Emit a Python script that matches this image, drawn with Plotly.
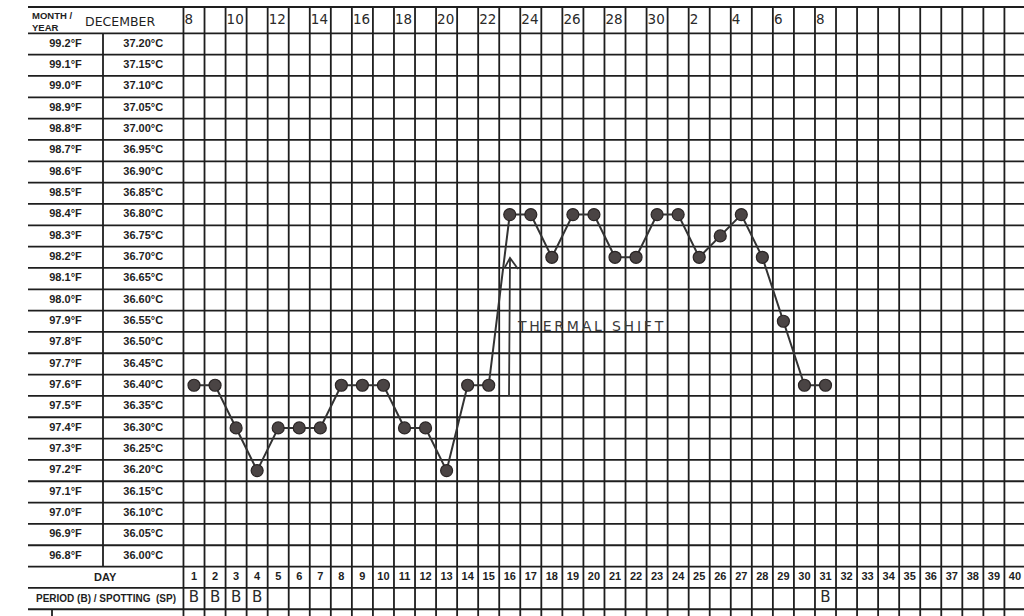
"""
BBT chart (basal body temperature) rebuilt with Plotly.
"""

import plotly.graph_objects as go

# ─── DATA ─────────────────────────────────────────────────────────────────────

ROW_F = [99.2, 99.1, 99.0, 98.9, 98.8, 98.7, 98.6, 98.5, 98.4, 98.3, 98.2, 98.1,
         98.0, 97.9, 97.8, 97.7, 97.6, 97.5, 97.4, 97.3, 97.2, 97.1, 97.0, 96.9, 96.8]
ROW_F_LABELS = ["99.2°F", "99.1°F", "99.0°F", "98.9°F", "98.8°F", "98.7°F", "98.6°F",
                "98.5°F", "98.4°F", "98.3°F", "98.2°F", "98.1°F", "98.0°F", "97.9°F",
                "97.8°F", "97.7°F", "97.6°F", "97.5°F", "97.4°F", "97.3°F", "97.2°F",
                "97.1°F", "97.0°F", "96.9°F", "96.8°F"]
ROW_C_LABELS = ["37.20°C", "37.15°C", "37.10°C", "37.05°C", "37.00°C", "36.95°C",
                "36.90°C", "36.85°C", "36.80°C", "36.75°C", "36.70°C", "36.65°C",
                "36.60°C", "36.55°C", "36.50°C", "36.45°C", "36.40°C", "36.35°C",
                "36.30°C", "36.25°C", "36.20°C", "36.15°C", "36.10°C", "36.05°C",
                "36.00°C"]

DAYS = list(range(1, 41))

DATE_COLS = [1, 3, 5, 7, 9, 11, 13, 15, 17, 19, 21, 23, 25, 27, 29, 31]
DATE_LABELS = ["8", "10", "12", "14", "16", "18", "20", "22", "24", "26", "28", "30",
               "2", "4", "6", "8"]

CYCLE_DAYS = list(range(1, 32))
BBT_F = [97.6, 97.6, 97.4, 97.2, 97.4, 97.4, 97.4, 97.6, 97.6, 97.6, 97.4, 97.4,
         97.2, 97.6, 97.6, 98.4, 98.4, 98.2, 98.4, 98.4, 98.2, 98.2, 98.4, 98.4,
         98.2, 98.3, 98.4, 98.2, 97.9, 97.6, 97.6]

PERIOD_DAYS = [1, 2, 3, 4, 31]
PERIOD_MARKS = ["B", "B", "B", "B", "B"]

MONTH = "DECEMBER"
SHIFT_NOTE = "THERMAL SHIFT"

# ─── GEOMETRY (axis units: x = day column, y = °F) ───────────────────────────

_W, _H = 1024, 616
_PX_PER_DAY = 21.05
_PX_PER_DEG = 213.33
_X0 = -8.216              # x value at left edge of the page
_Y0 = 99.406              # y value at top of the page

_LEFT = _X0 + 28 / _PX_PER_DAY       # left edge of label table
_SPLIT = _X0 + 103 / _PX_PER_DAY     # °F | °C divider
_F_MID = (_LEFT + _SPLIT) / 2
_C_MID = (_SPLIT + 0.5) / 2
_TAB_MID = (_LEFT + 0.5) / 2
_TOP = _Y0 - 7 / _PX_PER_DEG         # top border
_HEAD_Y = _Y0 - 21 / _PX_PER_DEG     # header row centre
_BOTTOM = _Y0 - _H / _PX_PER_DEG
_DAY_Y = 96.7
_PERIOD_Y = 96.6

_INK = "#1e1e1e"
_LINE_W = 1.8
_FONT = "Liberation Sans"

fig = go.Figure()

# ─── GRID ─────────────────────────────────────────────────────────────────────

shapes = []
for d in DAYS + [DAYS[-1] + 1]:
    xv = d - 0.5
    shapes.append(dict(type="line", x0=xv, x1=xv, y0=_BOTTOM, y1=_TOP))

row_edges = [f + 0.05 for f in ROW_F] + [96.75, 96.65, 96.55]
for yv in row_edges:
    shapes.append(dict(type="line", x0=_LEFT, x1=DAYS[-1] + 1, y0=yv, y1=yv))
shapes.append(dict(type="line", x0=_LEFT, x1=DAYS[-1] + 1, y0=_TOP, y1=_TOP))
shapes.append(dict(type="line", x0=_SPLIT, x1=_SPLIT, y0=96.75, y1=ROW_F[0] + 0.05))
shapes.append(dict(type="line", x0=_X0 + 52 / _PX_PER_DAY, x1=_X0 + 52 / _PX_PER_DAY,
                   y0=_BOTTOM, y1=96.55))

for s in shapes:
    s.update(xref="x", yref="y", line=dict(color=_INK, width=_LINE_W), layer="below")

# hand-drawn arrow pointing at the shift
shapes.append(dict(
    type="path", xref="x", yref="y",
    path="M 15.965 97.55 L 16.012 98.197 M 15.775 98.154 L 16.012 98.197 L 16.392 98.145",
    line=dict(color="#333333", width=1.8),
))

# ─── TEXT ─────────────────────────────────────────────────────────────────────

fig.add_trace(go.Scatter(
    x=[_F_MID] * len(ROW_F), y=ROW_F, text=ROW_F_LABELS, mode="text",
    textfont=dict(family=_FONT, size=11, color=_INK, weight="bold"),
    hoverinfo="skip", showlegend=False,
))
fig.add_trace(go.Scatter(
    x=[_C_MID] * len(ROW_F), y=ROW_F, text=ROW_C_LABELS, mode="text",
    textfont=dict(family=_FONT, size=11, color=_INK, weight="bold"),
    hoverinfo="skip", showlegend=False,
))
fig.add_trace(go.Scatter(
    x=DAYS, y=[_DAY_Y] * len(DAYS), text=[str(d) for d in DAYS], mode="text",
    textfont=dict(family=_FONT, size=11, color=_INK, weight="bold"),
    hoverinfo="skip", showlegend=False,
))
fig.add_trace(go.Scatter(
    x=[c - 0.45 for c in DATE_COLS], y=[_HEAD_Y] * len(DATE_COLS), text=DATE_LABELS,
    mode="text", textposition="middle right",
    textfont=dict(family="DejaVu Sans", size=13.5, color="#2a2a2a"),
    hoverinfo="skip", showlegend=False,
))
fig.add_trace(go.Scatter(
    x=PERIOD_DAYS, y=[_PERIOD_Y] * len(PERIOD_DAYS), text=PERIOD_MARKS, mode="text",
    textfont=dict(family="DejaVu Sans", size=15, color="#2a2a2a"),
    hoverinfo="skip", showlegend=False,
))

# ─── BBT CURVE ────────────────────────────────────────────────────────────────

fig.add_trace(go.Scatter(
    x=CYCLE_DAYS, y=BBT_F, mode="lines+markers",
    line=dict(color="#333333", width=2),
    marker=dict(size=12, color="#4a4444", line=dict(color="#2a2525", width=1.2)),
    hovertemplate="Day %{x}<br>%{y:.1f}°F<extra></extra>",
    showlegend=False,
))

annotations = [
    dict(x=_LEFT + 0.08, y=_HEAD_Y, text="<b>MONTH /<br>YEAR</b>", xanchor="left",
         align="left", showarrow=False,
         font=dict(family=_FONT, size=9.5, color=_INK)),
    dict(x=_X0 + 120 / _PX_PER_DAY, y=_HEAD_Y, text=MONTH, showarrow=False,
         font=dict(family="DejaVu Sans", size=12.5, color=_INK)),
    dict(x=_TAB_MID, y=_DAY_Y, text="<b>DAY</b>", showarrow=False,
         font=dict(family=_FONT, size=11, color=_INK)),
    dict(x=_TAB_MID, y=_PERIOD_Y, text="<b>PERIOD (B) / SPOTTING  (SP)</b>",
         showarrow=False, font=dict(family=_FONT, size=10, color=_INK)),
    dict(x=16.25, y=97.88, text="\u2009".join(SHIFT_NOTE), xanchor="left",
         showarrow=False,
         font=dict(family="DejaVu Sans", size=14, color="#3a3a3a")),
]

fig.update_layout(
    width=_W, height=_H,
    margin=dict(l=0, r=0, t=0, b=0),
    paper_bgcolor="white", plot_bgcolor="white",
    xaxis=dict(range=[_X0, _X0 + _W / _PX_PER_DAY], visible=False, fixedrange=True),
    yaxis=dict(range=[_BOTTOM, _Y0], visible=False, fixedrange=True),
    shapes=shapes,
    annotations=annotations,
)

# the page's default body margin would push the chart off the window
fig.write_html(
    "out.html",
    config={"displayModeBar": False},
    post_script="document.body.style.margin='0';document.body.style.overflow='hidden';",
)
